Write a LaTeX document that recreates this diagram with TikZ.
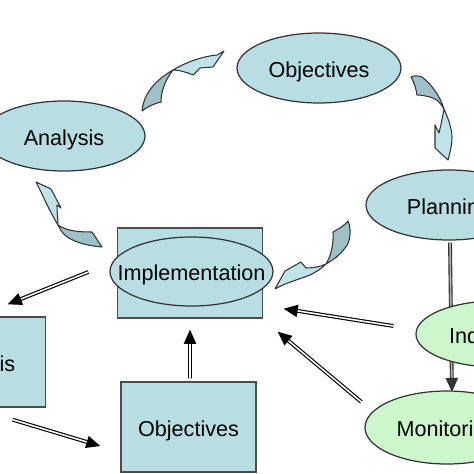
\documentclass[tikz,border=0pt]{standalone}
\usepackage{fontspec}
\setmainfont{Liberation Sans}
\usetikzlibrary{shapes.geometric}
\usetikzlibrary{arrows.meta}
\definecolor{cyc}{HTML}{B8DEE4}
\definecolor{mongreen}{HTML}{CCF6CC}
\definecolor{ribdark}{HTML}{9FC0C7}
\definecolor{riblight}{HTML}{BFE3E9}

\begin{document}
\begin{tikzpicture}[
  x=0.02cm, y=-0.02cm,
  dep/.style={
    double, double distance=0.9pt, line width=0.65pt,
    -{Triangle[length=8pt,width=7pt]}
  },
  oval/.style 2 args={
    ellipse,
    draw=black!80,
    line width=0.7pt,
    fill=#2,
    minimum width=#1*0.02cm,
    minimum height=70*0.02cm,
    inner sep=0pt},
  box/.style={
    rectangle,
    draw=black!70,
    line width=0.8pt,
    fill=cyc,
    minimum width=#1*0.02cm,
    minimum height=90*0.02cm,
    inner sep=0pt},
  lbl/.style={
    font=\fontsize{12.3}{14}\selectfont,
    inner sep=0pt, anchor=base, yshift=-5.4pt},
  rib/.style={
    draw=black!80, line width=0.6pt, line join=round, fill=#1},
]
  \useasboundingbox (0,0) rectangle (474,474);

  % Cycle
  \node[oval={164}{cyc}] (obj) at (319,68) {};
  \node[lbl] (obj_t) at (obj) {Objectives};
  \node[oval={162}{cyc}] (ana) at (64,136) {};
  \node[lbl] (ana_t) at (ana) {Analysis};
  \node[oval={166}{cyc}] (plan) at (449,205) {};
  \node[lbl] (plan_t) at (plan) {Planning};

  \node[box=145] (impbox) at (190,273) {};
  \node[oval={163}{cyc}, minimum height=69*0.02cm] (imp) at (191.5,271.5) {};
  \node[lbl] (imp_t) at (imp) {Implementation};

  % Lower loop
  \node[box=141] (anabox) at (-25,362) {};
  \node[lbl] (anabox_t) at (anabox) {Analysis};
  \node[box=135] (objbox) at (188.5,427) {};
  \node[lbl] (objbox_t) at (objbox) {Objectives};

  \draw[dep, draw=black!80, double=gray!60] ([shift={(1,2)}]plan.south)
      -- ([shift={(3,1)}]plan.south |- 0,391) coordinate (mon_top);

  \node[oval={160}{mongreen}, minimum height=66*0.02cm] (ind) at (496,334) {};
  \node[lbl] (ind_t) at (ind) {Indicators};
  \node[oval={164}{mongreen}, minimum height=73*0.02cm] (mon) at (447,427.5) {};
  \node[lbl] (mon_t) at (mon) {Monitoring};

  \draw[dep] ([shift={(-21,0.5)}]imp.west)
      -- ([shift={(-38.5,-12)}]anabox.north east);
  \draw[dep] ([shift={(-33.5,12)}]anabox.south east)
      -- ([shift={(-20,19)}]objbox.west);
  \draw[dep] ([shift={(1.5,-3)}]objbox.north)
      -- ([shift={(0,11)}]impbox.south);
  \draw[dep] ([shift={(-22,-8)}]ind.west)
      -- ([shift={(20.5,-10)}]impbox.south east);
  \draw[dep] ([shift={(-3,-25.5)}]mon.west)
      -- ([shift={(14.5,13)}]impbox.south east);

  % Twisted arrows
  % analysis -> objectives
  \filldraw[rib=ribdark] (142,111) .. controls (143,97) and (152,82) .. (173,70)
      .. controls (166,79) and (161,90) .. (161,102)
      .. controls (153,104) and (147,107) .. cycle;
  \filldraw[rib=riblight] (173,70) .. controls (188,61) and (205,56) .. (217,55)
      -- (224,51) -- (213,67) -- (200,68) -- (193,75)
      .. controls (186,72) and (179,70) .. cycle;
  % objectives -> planning
  \filldraw[rib=ribdark] (411,77) .. controls (415,75) and (419,76) .. (422,77)
      .. controls (432,85) and (440,96) .. (444,109)
      .. controls (441,103) and (436,99) .. (433,98)
      .. controls (428,96) and (420,95) .. (417,95)
      .. controls (416,88) and (414,82) .. cycle;
  \filldraw[rib=riblight] (444,109) .. controls (449,120) and (452,130) .. (452,137)
      .. controls (452,145) and (450,153) .. (448,160)
      -- (435,148) -- (435,125) -- (439,133)
      .. controls (441,125) and (443,115) .. cycle;
  % planning -> implementation
  \filldraw[rib=ribdark] (333,232) .. controls (340,228) and (345,225) .. (348,221)
      .. controls (352,230) and (350,243) .. (345,248)
      .. controls (340,255) and (333,260) .. (326,264)
      .. controls (330,258) and (334,245) .. cycle;
  \filldraw[rib=riblight] (326,264) .. controls (320,267) and (312,268) .. (306,268)
      -- (301,262) -- (285,271) -- (275,289)
      .. controls (285,283) and (300,279) .. (310,275)
      .. controls (318,271) and (323,267) .. cycle;
  % implementation -> analysis
  \filldraw[rib=ribdark] (58,225) .. controls (67,231) and (78,232) .. (92,232)
      -- (102,247) .. controls (90,246) and (75,243) .. (66,236)
      .. controls (62,233) and (60,229) .. cycle;
  \filldraw[rib=riblight] (58,225) .. controls (52,215) and (46,203) .. (41,192)
      -- (36,182) -- (51,189) -- (61,208) -- (57,205)
      .. controls (57,213) and (58,220) .. cycle;

\end{tikzpicture}
\end{document}
